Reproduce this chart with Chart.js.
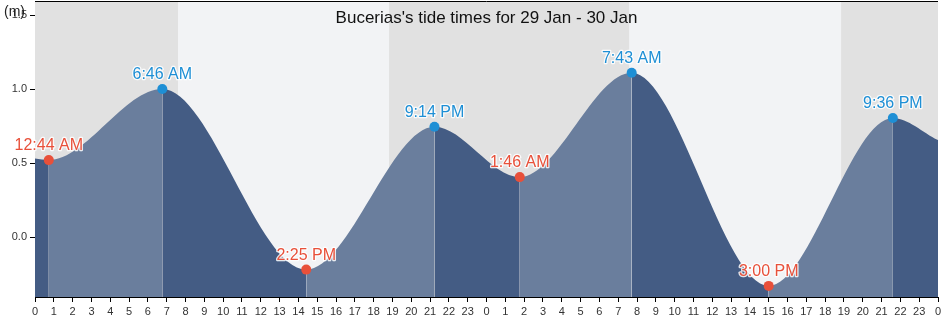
<!DOCTYPE html>
<html>
<head>
<meta charset="utf-8">
<script src="https://cdn.jsdelivr.net/npm/chart.js@4/dist/chart.umd.min.js"></script>
<style>
  html, body { margin: 0; padding: 0; background: #fff; }
  #wrap { width: 942px; height: 318px; position: relative; }
</style>
</head>
<body>
<div id="wrap"><canvas id="tide" width="942" height="318"></canvas></div>
<script>
// Data (hours from midnight 29 Jan, tide height in m)
const hours = [0, 0.733, 6.767, 14.417, 21.233, 25.767, 31.717, 39, 45.6, 48];
const heights = [0.53, 0.52, 1.0, -0.22, 0.745, 0.405, 1.11, -0.33, 0.805, 0.655];
const timeLabels = ['', '12:44 AM', '6:46 AM', '2:25 PM', '9:14 PM', '1:46 AM', '7:43 AM', '3:00 PM', '9:36 PM', ''];
const kinds = ['', 'low', 'high', 'low', 'high', 'low', 'high', 'low', 'high', ''];
const sunrise = [7.6, 31.58];
const sunset = [18.82, 42.85];
const yTicks = [0, 0.5, 1.0, 1.5];
const xTicks = Array.from({ length: 49 }, (_, i) => i);
const title = "Bucerias's tide times for 29 Jan - 30 Jan";

// Colours
const NIGHT = '#e1e1e1';
const DAY = '#f2f3f5';
const RISING = '#6a7e9d';
const FALLING = '#445c84';
const HIGH = '#1e8fd5';
const LOW = '#e8503a';
const FONT = '"Liberation Sans", Arial, sans-serif';

// Background: night / day bands
const bandsPlugin = {
  id: 'bands',
  beforeDatasetsDraw(chart) {
    const { ctx, chartArea: a, scales: { x } } = chart;
    ctx.save();
    ctx.fillStyle = NIGHT;
    ctx.fillRect(a.left, a.top, a.right - a.left, a.bottom - a.top);
    ctx.fillStyle = DAY;
    sunrise.forEach((r, i) => {
      const x0 = x.getPixelForValue(r);
      const x1 = x.getPixelForValue(sunset[i]);
      ctx.fillRect(x0, a.top, x1 - x0, a.bottom - a.top);
    });
    ctx.restore();
  }
};

// Labels, title, unit, top border
const labelPlugin = {
  id: 'labels',
  afterDatasetsDraw(chart) {
    const { ctx, chartArea: a } = chart;
    const meta = chart.getDatasetMeta(0);
    ctx.save();
    ctx.font = '16px ' + FONT;
    ctx.textAlign = 'center';
    ctx.textBaseline = 'alphabetic';
    ctx.lineJoin = 'round';
    meta.data.forEach((pt, i) => {
      if (!timeLabels[i]) return;
      ctx.strokeStyle = 'rgba(255,255,255,0.85)';
      ctx.lineWidth = 2.5;
      ctx.strokeText(timeLabels[i], pt.x, pt.y - 10);
      ctx.fillStyle = kinds[i] === 'high' ? HIGH : LOW;
      ctx.fillText(timeLabels[i], pt.x, pt.y - 10);
    });

    // top border
    ctx.strokeStyle = '#000';
    ctx.lineWidth = 1;
    ctx.beginPath();
    ctx.moveTo(a.left, a.top + 0.5);
    ctx.lineTo(a.right, a.top + 0.5);
    ctx.stroke();

    // title
    ctx.fillStyle = '#111';
    ctx.font = '17px ' + FONT;
    ctx.textBaseline = 'middle';
    ctx.fillText(title, (a.left + a.right) / 2, 18);

    // unit
    ctx.font = '14px ' + FONT;
    ctx.textAlign = 'left';
    ctx.fillStyle = '#222';
    ctx.fillText('(m)', 4, 12);
    ctx.restore();
  }
};

new Chart(document.getElementById('tide'), {
  type: 'line',
  data: {
    datasets: [{
      data: hours.map((h, i) => ({ x: h, y: heights[i] })),
      fill: 'start',
      cubicInterpolationMode: 'monotone',
      borderWidth: 0,
      borderColor: 'rgba(0,0,0,0)',
      backgroundColor: RISING,
      segment: {
        backgroundColor: c => c.p1.parsed.y > c.p0.parsed.y ? RISING : FALLING
      },
      pointRadius: c => timeLabels[c.dataIndex] ? 5 : 0,
      pointHoverRadius: c => timeLabels[c.dataIndex] ? 5 : 0,
      pointBorderWidth: 0,
      pointBackgroundColor: c => kinds[c.dataIndex] === 'high' ? HIGH : LOW
    }]
  },
  options: {
    responsive: false,
    animation: false,
    events: [],
    layout: { padding: { top: 1, right: 4, left: 0, bottom: 0 } },
    plugins: {
      legend: { display: false },
      title: { display: false },
      tooltip: { enabled: false }
    },
    scales: {
      x: {
        type: 'linear',
        min: 0,
        max: 48,
        afterBuildTicks: s => { s.ticks = xTicks.map(v => ({ value: v })); },
        afterFit: s => { s.height = 21; s.paddingLeft = 0; s.paddingRight = 0; },
        grid: { drawOnChartArea: false, color: '#000', tickLength: 5 },
        border: { color: '#000', width: 1 },
        ticks: {
          autoSkip: false,
          maxRotation: 0,
          color: '#333',
          font: { size: 11, family: FONT },
          padding: 3,
          callback: v => String(v % 24)
        }
      },
      y: {
        min: -0.405,
        max: 1.595,
        afterBuildTicks: s => { s.ticks = yTicks.map(v => ({ value: v })); },
        afterFit: s => { s.width = 35; s.paddingTop = 0; s.paddingBottom = 0; },
        grid: { drawOnChartArea: false, color: '#000', tickLength: 5 },
        border: { color: '#000', width: 1 },
        ticks: {
          color: '#333',
          font: { size: 11, family: FONT },
          padding: 3,
          callback: v => v.toFixed(1)
        }
      }
    }
  },
  plugins: [bandsPlugin, labelPlugin]
});
</script>
</body>
</html>
